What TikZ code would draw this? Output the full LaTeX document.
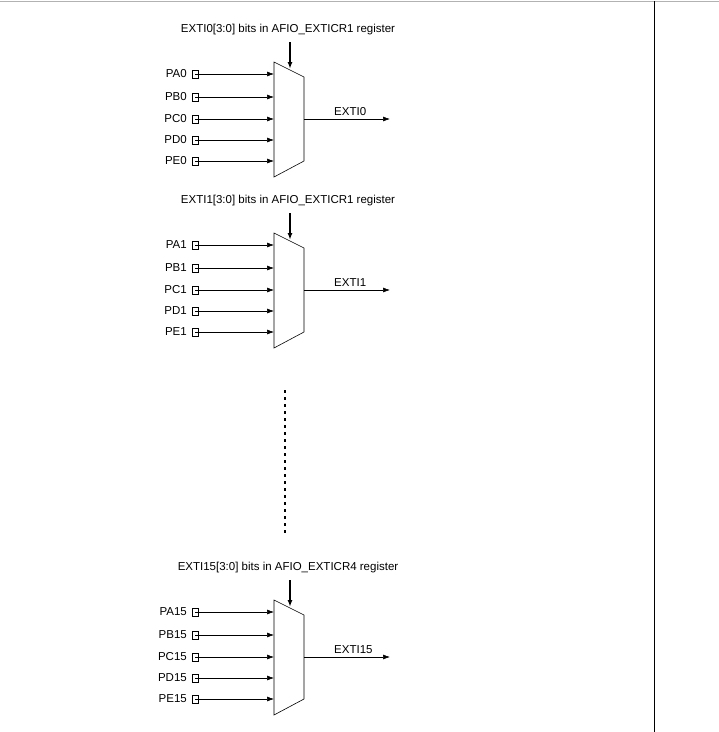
\documentclass[tikz,border=0pt]{standalone}
\usepackage{fontspec}
\setmainfont{Liberation Sans}
\usetikzlibrary{arrows.meta}
\begin{document}
\begin{tikzpicture}[x=1pt,y=-1pt,
  lbl/.style={font=\fontsize{11.5}{13}\selectfont,inner sep=0pt},
  pin/.style={draw,inner sep=0pt,minimum width=6pt,minimum height=8pt,line width=0.6pt},
  sig/.style={-{Latex[length=7pt,width=5pt]},line width=0.6pt},
  ln/.style={line width=0.6pt}]
\useasboundingbox (0,0) rectangle (719,732);
\draw[gray!60,line width=0.5pt] (0,1) -- (719,1);
\draw[line width=1pt] (654,1) -- (654,732);
\foreach \off/\n/\reg in {0/0/1,171/1/1,538/15/4}{
  \begin{scope}[shift={(0,\off)}]
  \node[lbl] (h\n) at (288,30) {EXTI\n[3:0] bits in AFIO\_EXTICR\reg{} register};
  \coordinate (t\n) at (290,42);
  \coordinate (te\n) at (290,69);
  \draw[sig,line width=1.4pt] (t\n) -- (te\n);
  \draw[ln] (274,62) -- (304,77) -- (304,161) -- (274,177) -- cycle;
  \foreach \p/\yy in {A/74,B/97,C/119,D/140,E/161}{
    \node[lbl,anchor=east] (l\p\n) at (187,\yy) {P\p\n};
    \node[pin] (s\p\n) at (195,\yy) {};
    \coordinate (e\p\n) at (274,\yy);
    \draw[sig] (s\p\n.east) -- (e\p\n);
    \draw[ln] (s\p\n.center) -- (s\p\n.east);
  }
  \coordinate (o\n) at (304,119);
  \coordinate (oe\n) at (390,119);
  \draw[sig] (o\n) -- (oe\n);
  \node[lbl,anchor=west] (ol\n) at (334,112) {EXTI\n};
  \end{scope}}
\coordinate (d1) at (285,390);
\coordinate (d2) at (285,536);
\draw[line width=1.5pt,dash pattern=on 3pt off 4pt] (d1) -- (d2);
\end{tikzpicture}
\end{document}
